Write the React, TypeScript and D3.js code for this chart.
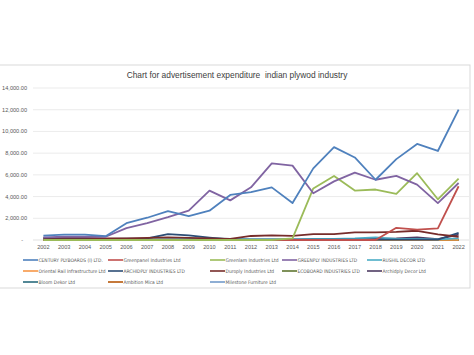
import React from "react";
import * as d3 from "d3";

const years = ["2002","2003","2004","2005","2006","2007","2008","2009","2010","2011","2012","2013","2014","2015","2016","2017","2018","2019","2020","2021","2022"];
const yTicks = [0, 2000, 4000, 6000, 8000, 10000, 12000, 14000];

const century = [400, 500, 500, 350, 1550, 2050, 2650, 2200, 2700, 4150, 4400, 4850, 3400, 6600, 8550, 7600, 5550, 7450, 8850, 8200, 12000];
const greenpanel = [0, 0, 0, 0, 0, 0, 0, 0, 0, 0, 0, 0, 0, 0, 0, 0, 0, 1120, 950, 1080, 4950];
const greenlam = [0, 0, 0, 0, 0, 0, 0, 0, 0, 0, 0, 0, 150, 4750, 5900, 4550, 4650, 4250, 6150, 3750, 5650];
const greenply = [250, 300, 300, 300, 1100, 1550, 2100, 2700, 4550, 3650, 4850, 7050, 6850, 4300, 5400, 6200, 5550, 5900, 5100, 3400, 5250];
const rushil = [50, 50, 50, 50, 50, 50, 50, 100, 150, 100, 50, 50, 50, 100, 100, 150, 250, 100, 100, 50, 150];
const orientalRail = [20, 20, 20, 20, 20, 20, 20, 20, 20, 20, 20, 20, 20, 20, 20, 20, 20, 20, 20, 20, 20];
const archidplyInd = [100, 120, 120, 100, 120, 150, 550, 420, 220, 60, 30, 30, 30, 30, 30, 30, 30, 30, 30, 30, 650];
const duroply = [200, 200, 200, 150, 150, 200, 250, 200, 150, 100, 370, 430, 380, 550, 550, 700, 700, 750, 850, 520, 300];
const ecoboard = [10, 10, 10, 10, 10, 10, 10, 10, 10, 10, 10, 10, 10, 10, 10, 10, 10, 10, 10, 10, 10];
const archidplyDecor = [0, 0, 0, 0, 0, 0, 0, 0, 0, 0, 0, 0, 0, 0, 0, 0, 100, 150, 250, 80, 500];
const bloomDekor = [30, 30, 30, 30, 30, 30, 30, 30, 30, 30, 30, 30, 30, 30, 30, 30, 30, 30, 30, 30, 30];
const ambitionMica = [15, 15, 15, 15, 15, 15, 15, 15, 15, 15, 15, 15, 15, 15, 15, 15, 15, 15, 15, 15, 15];
const milestone = [5, 5, 5, 5, 5, 5, 5, 5, 5, 5, 5, 5, 5, 5, 5, 5, 5, 5, 5, 5, 5];

const seriesNames = [
  "CENTURY PLYBOARDS (I) LTD.", "Greenpanel Industries Ltd", "Greenlam Industries Ltd", "GREENPLY INDUSTRIES LTD", "RUSHIL DECOR LTD",
  "Oriental Rail Infrastructure Ltd", "ARCHIDPLY INDUSTRIES LTD", "Duroply Industries Ltd", "ECOBOARD INDUSTRIES LTD", "Archidply Decor Ltd",
  "Bloom Dekor Ltd", "Ambition Mica Ltd", "Milestone Furniture Ltd",
];
const seriesValues = [century, greenpanel, greenlam, greenply, rushil, orientalRail, archidplyInd, duroply, ecoboard, archidplyDecor, bloomDekor, ambitionMica, milestone];
const seriesColors = ["#4F81BD", "#C0504D", "#9BBB59", "#8064A2", "#4BACC6", "#F79646", "#2C4D75", "#772C2A", "#5F7530", "#4D3B62", "#276A7C", "#B65708", "#729ACA"];

const W = 474, H = 355;
const plotLeft = 33, plotRight = 469, plotTop = 88, plotBottom = 240;
const font = "'Liberation Sans', Arial, sans-serif";
const narrow = "'Liberation Sans Narrow', 'DejaVu Sans Condensed', 'Liberation Sans', sans-serif";

export default function App() {
  const x = d3.scaleBand<string>().domain(years).range([plotLeft, plotRight]);
  const y = d3.scaleLinear().domain([0, 14000]).range([plotBottom, plotTop]);
  const line = d3.line<number>()
    .x((_, i) => (x(years[i]) as number) + x.bandwidth() / 2)
    .y((d) => y(d));

  const fmt = d3.format(",.2f");
  const legendCols = [23, 108, 210, 282, 367];
  const legendRows = [260, 271, 282];

  const order = [12, 11, 10, 9, 8, 5, 4, 6, 7, 1, 2, 3, 0];

  return (
    <svg width={W} height={H} style={{ position: "absolute", left: 0, top: 0, background: "#fff" }}>
      <rect x={-1} y={65} width={471} height={223} fill="#fff" stroke="#d9d9d9" strokeWidth={1} />
      <text x={237} y={78} textAnchor="middle" fontFamily={font} fontSize={8.4} fill="#404040" style={{ whiteSpace: "pre" }}>
        {"Chart for advertisement expenditure  indian plywod industry"}
      </text>
      {yTicks.map((t) => (
        <g key={t}>
          <line x1={plotLeft} x2={plotRight} y1={y(t)} y2={y(t)} stroke={t === 0 ? "#d9d9d9" : "#e6e6e6"} strokeWidth={0.8} />
          <text x={t === 0 ? 23 : 27} y={y(t) + 2} textAnchor="end" fontFamily={font} fontSize={5.6} fill="#595959">
            {t === 0 ? "-" : fmt(t)}
          </text>
        </g>
      ))}
      {years.map((yr) => (
        <text key={yr} x={(x(yr) as number) + x.bandwidth() / 2} y={248.5} textAnchor="middle" fontFamily={font} fontSize={5.6} fill="#595959">
          {yr}
        </text>
      ))}
      {order.map((i) => (
        <path key={i} d={line(seriesValues[i]) || ""} fill="none" stroke={seriesColors[i]} strokeWidth={1.8} strokeLinejoin="round" />
      ))}
      {seriesNames.map((name, i) => {
        const cx = legendCols[i % 5];
        const cy = legendRows[Math.floor(i / 5)];
        return (
          <g key={name}>
            <line x1={cx} x2={cx + 15} y1={cy} y2={cy} stroke={seriesColors[i]} strokeWidth={1.6} />
            <text x={cx + 15.5} y={cy + 1.8} fontFamily={narrow} fontSize={4.9} fill="#595959">{name}</text>
          </g>
        );
      })}
    </svg>
  );
}
